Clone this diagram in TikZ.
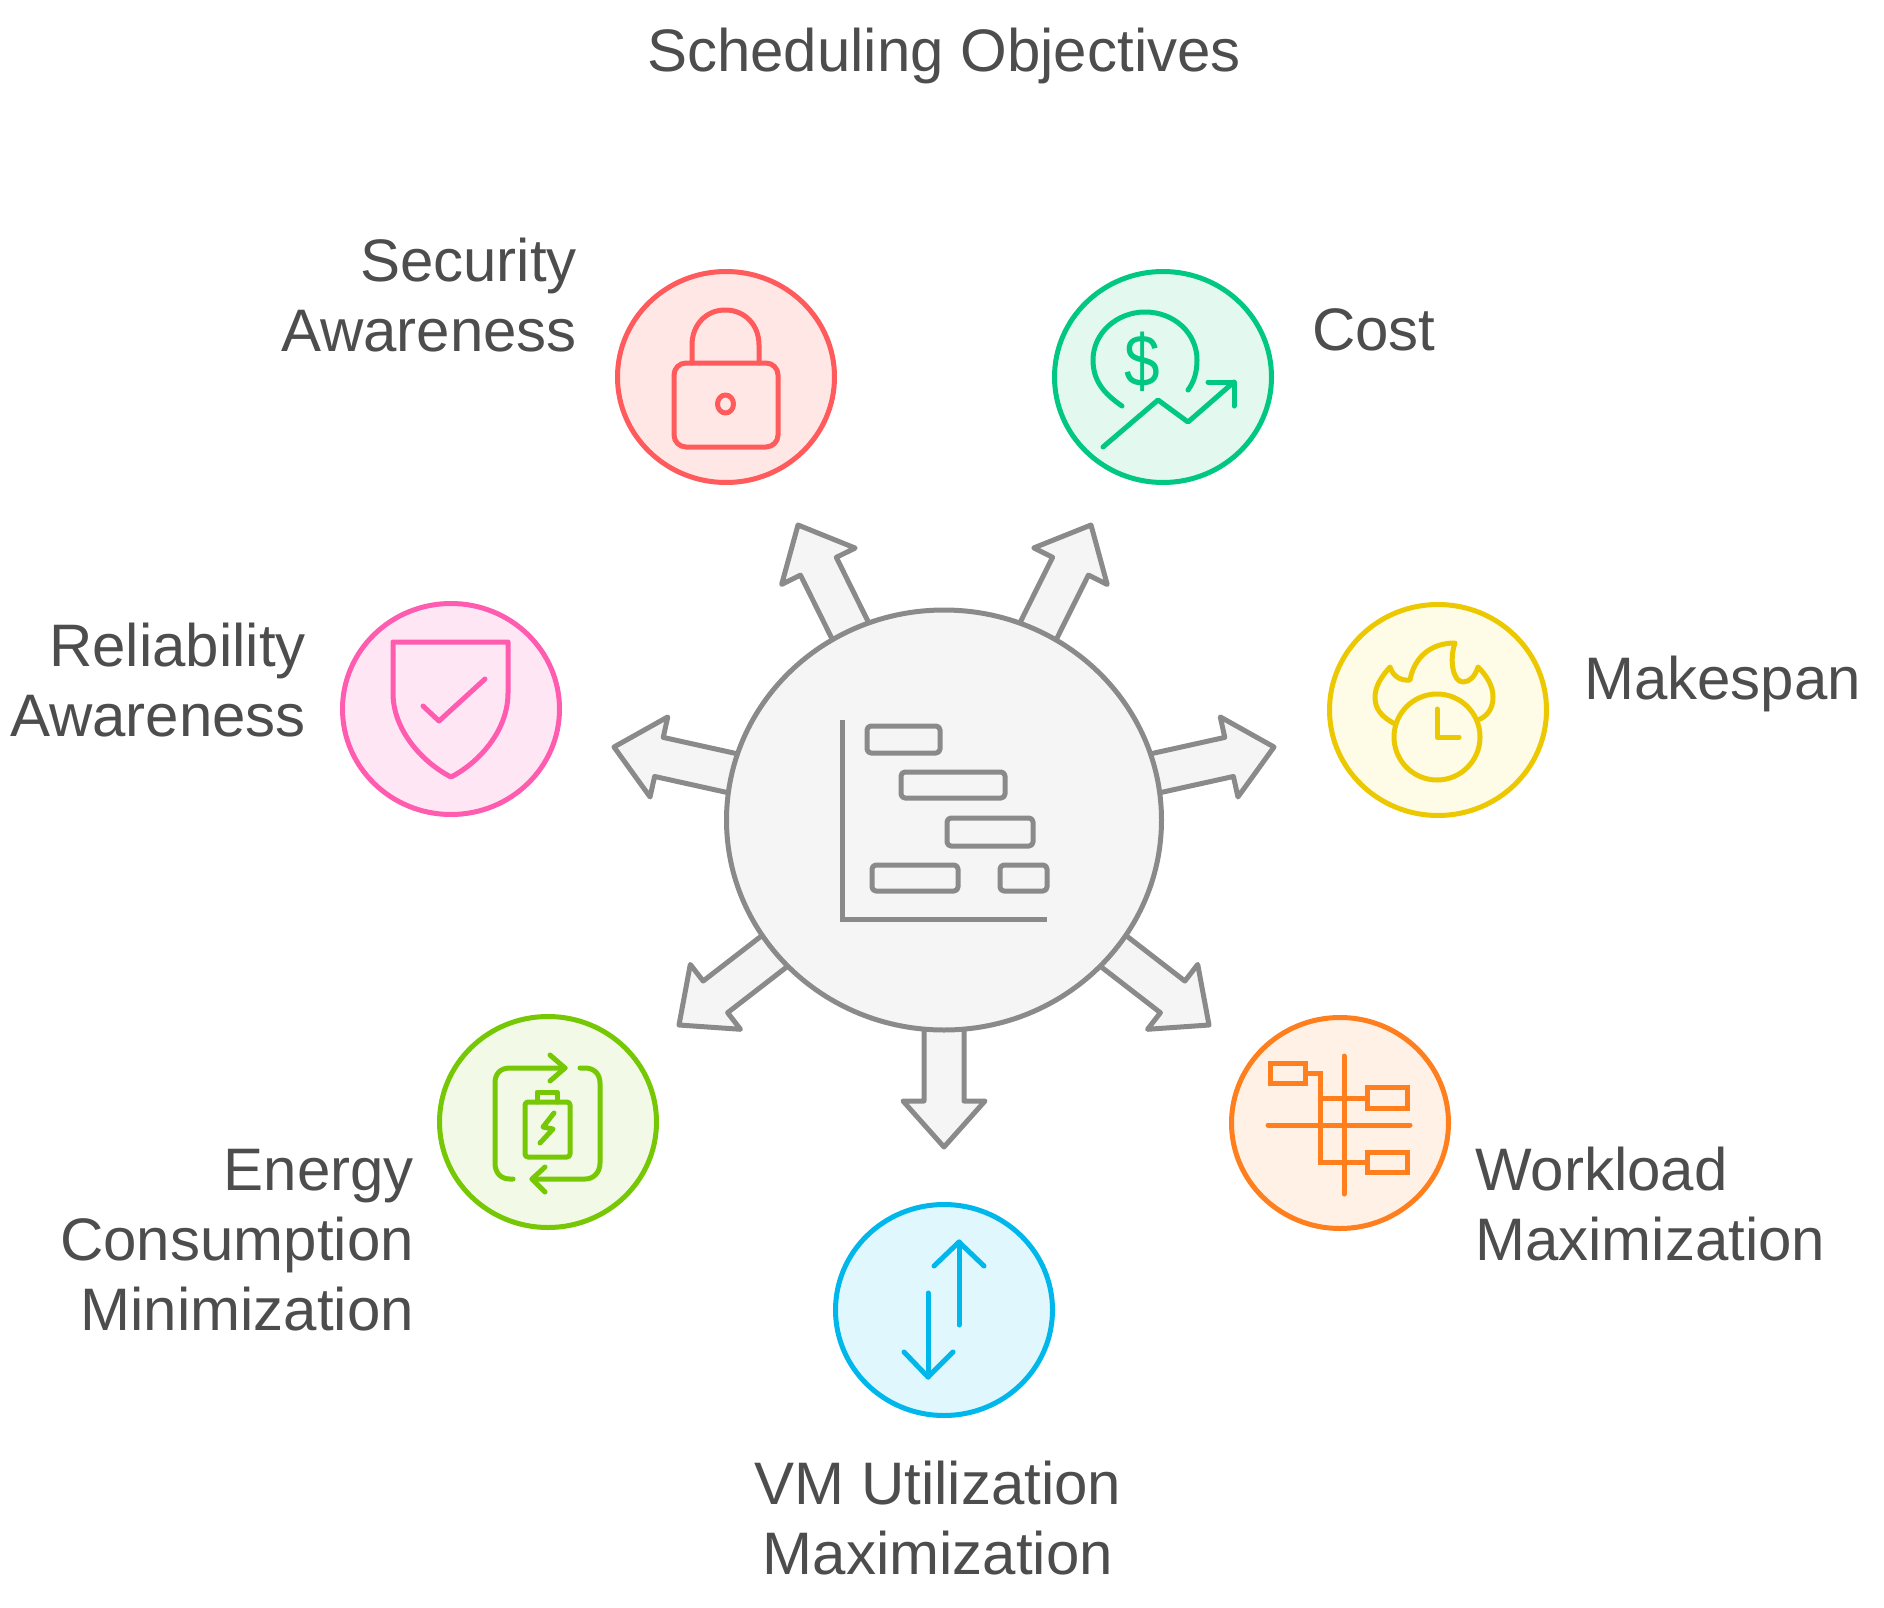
\documentclass[tikz,border=0pt]{standalone}
\usepackage{fontspec}
\setmainfont{Liberation Sans}
\usetikzlibrary{calc,shapes.geometric,backgrounds}

\definecolor{inkgray}{HTML}{4D4D4D}
\definecolor{hubline}{HTML}{8A8A8A}
\definecolor{hubfill}{HTML}{F5F5F5}
\definecolor{redline}{HTML}{FF5A5C}
\definecolor{redfill}{HTML}{FFE7E5}
\definecolor{greenline}{HTML}{00C781}
\definecolor{greenfill}{HTML}{E3F9F0}
\definecolor{yellowline}{HTML}{EBC800}
\definecolor{yellowfill}{HTML}{FEFCE7}
\definecolor{pinkline}{HTML}{FF5CB0}
\definecolor{pinkfill}{HTML}{FFE6F5}
\definecolor{limeline}{HTML}{76C804}
\definecolor{limefill}{HTML}{F2FAE7}
\definecolor{orangeline}{HTML}{FF7F1E}
\definecolor{orangefill}{HTML}{FFF1E6}
\definecolor{blueline}{HTML}{00B7EB}
\definecolor{bluefill}{HTML}{E0F7FE}

\tikzset{
	disc/.style n args={2}{ellipse, draw=#1, fill=#2, line width=5pt, inner sep=0pt, outer sep=0pt, minimum width=217pt, minimum height=211pt},
	icon/.style={line width=5pt, line cap=round, line join=round},
	label/.style={text=inkgray, inner sep=0pt, font=\fontsize{60}{70}\selectfont},
	arrowline/.style={draw=hubline, fill=hubfill, line width=5pt, line join=round},
}

% shaft half width 20, head half width 41, head length 46
\newcommand{\blockarrow}[1]{
	\coordinate (neck) at ($(#1)!46pt!(hub.center)$);
	\draw[arrowline] ($(hub.center)!20pt!90:(#1)$) -- ($(neck)!20pt!90:(#1)$) -- ($(neck)!41pt!90:(#1)$)
		-- (#1) -- ($(neck)!41pt!-90:(#1)$) -- ($(neck)!20pt!-90:(#1)$) -- ($(hub.center)!20pt!-90:(#1)$) -- cycle;
}

\begin{document}
\begin{tikzpicture}[x=1pt, y=-1pt]
	\useasboundingbox (0,0) rectangle (1884,1608);

	% Define nodes
	\node[label] (title) at (944,56) {Scheduling Objectives};
	\node[ellipse, draw=hubline, fill=hubfill, line width=5pt, inner sep=0pt, outer sep=0pt, minimum width=435pt, minimum height=420pt] (hub) at (944,820) {};
	\node[disc={redline}{redfill}] (security) at (726,377) {};
	\node[disc={greenline}{greenfill}] (cost) at (1163,377) {};
	\node[disc={yellowline}{yellowfill}] (makespan) at (1438,710) {};
	\node[disc={pinkline}{pinkfill}] (reliability) at (451,709) {};
	\node[disc={limeline}{limefill}] (energy) at (548,1122) {};
	\node[disc={orangeline}{orangefill}] (workload) at (1340,1123) {};
	\node[disc={blueline}{bluefill}] (vm) at (944,1310) {};

	\node[label, anchor=east, align=right] (securitytext) at (577,295) {Security\\Awareness};
	\node[label, anchor=west, align=left] (costtext) at (1312,330) {Cost};
	\node[label, anchor=west, align=left] (makespantext) at (1584,684) {Makespan};
	\node[label, anchor=east, align=right] (reliabilitytext) at (306,680) {Reliability\\Awareness};
	\node[label, anchor=east, align=right] (energytext) at (414,1240) {Energy\\Consumption\\Minimization};
	\node[label, anchor=west, align=left] (workloadtext) at (1475,1204) {Workload\\Maximization};
	\node[label, align=center] (vmtext) at (938,1518) {VM Utilization\\Maximization};

	% Draw arrows
	\coordinate (tipsecurity) at (798,525);
	\coordinate (tipcost) at (1091,525);
	\coordinate (tipmakespan) at (1274,747);
	\coordinate (tipreliability) at (614,747);
	\coordinate (tipenergy) at (679,1025);
	\coordinate (tipworkload) at (1209,1025);
	\coordinate (tipvm) at (944,1147);
	\begin{scope}[on background layer]
		\foreach \tipname in {tipsecurity,tipcost,tipmakespan,tipreliability,tipenergy,tipworkload,tipvm}{
			\blockarrow{\tipname}
		}
	\end{scope}

	% Gantt chart
	\draw[icon, hubline, line cap=butt, line join=miter] (842,720) -- (842,919) -- (1047,919);
	\foreach \xa/\ya/\xb/\yb in {867/726/940/753,901/772/1005/798,947/818/1033/846,872/865/958/891,1000/865/1047/891}
		\draw[icon, hubline, rounded corners=4pt] (\xa,\ya) rectangle (\xb,\yb);

	% Lock
	\draw[icon, redline, rounded corners=12pt] (674,363) rectangle (778,447);
	\draw[icon, redline] (692,363) -- (692,345) .. controls (692,325) and (706,310) .. (725,310) .. controls (745,310) and (759,325) .. (759,345) -- (759,363);
	\draw[icon, redline] (725.5,404) ellipse (8 and 9);

	% Coin and trend
	\draw[icon, greenline] (1122,406) .. controls (1103,393) and (1093,380) .. (1093,360) .. controls (1093,333) and (1117,312) .. (1145,312)
		.. controls (1174,312) and (1197,333) .. (1197,360) .. controls (1197,372) and (1194,382) .. (1188,390);
	\node[text=greenline, font=\fontsize{64}{66}\selectfont] (dollar) at (1142,362) {\scalebox{1}[1.15]{\$}};
	\draw[icon, greenline] (1103,447) -- (1158,400) -- (1188,422) -- (1234,382);
	\draw[icon, greenline] (1208,382) -- (1234,382) -- (1234,406);

	% Flame and clock
	\draw[icon, yellowline] (1437,737) circle (43);
	\draw[icon, yellowline] (1437,709) -- (1437,737) -- (1459,737);
	\draw[icon, yellowline] (1395,724) .. controls (1380,716) and (1375,708) .. (1375,697) .. controls (1375,686) and (1382,676) .. (1390,667)
		.. controls (1393,676) and (1400,681) .. (1410,680) .. controls (1414,658) and (1430,643) .. (1455,643)
		.. controls (1449,660) and (1453,682) .. (1463,682) .. controls (1470,682) and (1475,676) .. (1478,667)
		.. controls (1487,676) and (1493,686) .. (1493,697) .. controls (1493,708) and (1488,716) .. (1478,720);

	% Shield
	\draw[icon, pinkline] (393,642) -- (508,642) -- (508,693) .. controls (508,730) and (480,762) .. (451,777)
		.. controls (422,762) and (393,730) .. (393,693) -- cycle;
	\draw[icon, pinkline] (423,706) -- (439,721) -- (485,679);

	% Battery and loop
	\draw[icon, limeline] (513,1179) -- (510,1179) .. controls (500,1179) and (495,1172) .. (495,1163) -- (495,1083) .. controls (495,1074) and (500,1068) .. (510,1068) -- (565,1068);
	\draw[icon, limeline] (550,1055) -- (565,1068) -- (550,1081);
	\draw[icon, limeline] (580,1068) -- (585,1068) .. controls (594,1068) and (600,1074) .. (600,1083) -- (600,1163) .. controls (600,1172) and (594,1179) .. (585,1179) -- (532,1179);
	\draw[icon, limeline] (545,1167) -- (532,1179) -- (545,1192);
	\draw[icon, limeline, rounded corners=3pt] (525,1102) rectangle (570,1157);
	\draw[icon, limeline] (537,1102) -- (537,1092) -- (557,1092) -- (557,1102);
	\draw[icon, limeline] (554,1113) -- (543,1127) -- (553,1129) -- (540,1143);

	% Tree of boxes
	\draw[icon, orangeline, line join=miter] (1270,1063) rectangle (1305,1083);
	\draw[icon, orangeline, line join=miter] (1367,1087) rectangle (1407,1108);
	\draw[icon, orangeline, line join=miter] (1367,1152) rectangle (1407,1172);
	\draw[icon, orangeline] (1344,1056) -- (1344,1194);
	\draw[icon, orangeline] (1268,1125) -- (1410,1125);
	\draw[icon, orangeline, line cap=butt, line join=miter] (1305,1073) -- (1320,1073) -- (1320,1162) -- (1367,1162);
	\draw[icon, orangeline, line cap=butt] (1320,1098) -- (1367,1098);

	% Up and down
	\draw[icon, blueline] (959,1325) -- (959,1242);
	\draw[icon, blueline] (934,1266) -- (959,1242) -- (984,1266);
	\draw[icon, blueline] (928,1293) -- (928,1377);
	\draw[icon, blueline] (904,1352) -- (928,1377) -- (953,1352);
\end{tikzpicture}
\end{document}
